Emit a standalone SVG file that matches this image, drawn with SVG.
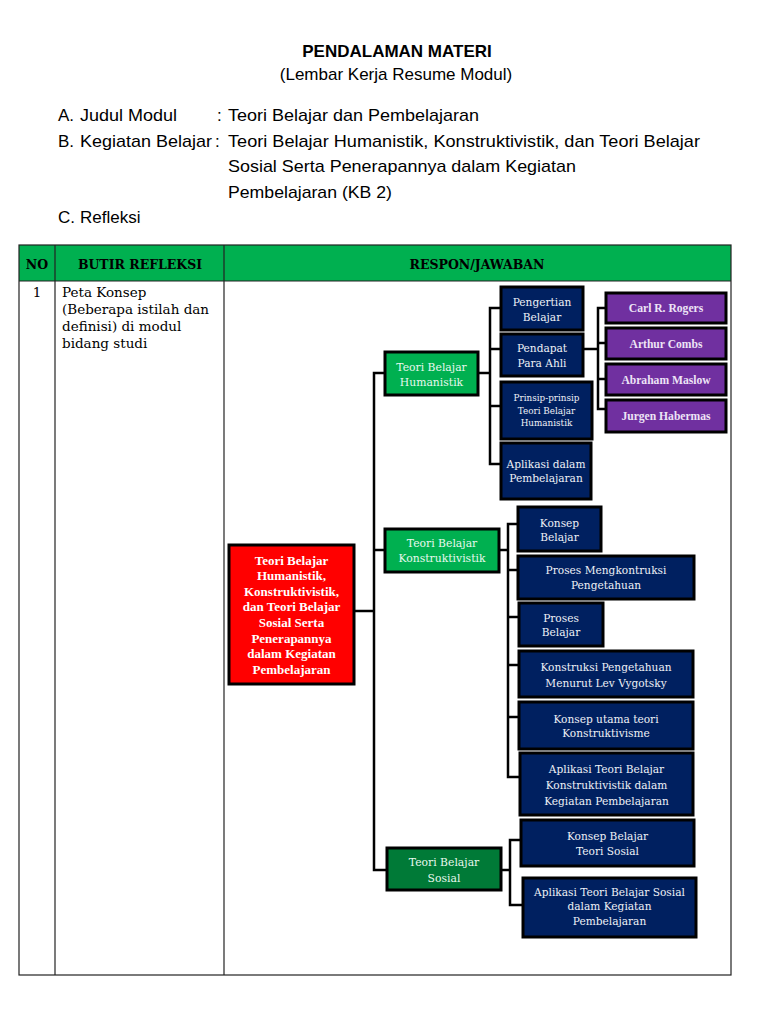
<svg xmlns="http://www.w3.org/2000/svg" width="768" height="1024" viewBox="0 0 768 1024">
<style>
.hd{font-family:"Liberation Sans",Arial,sans-serif;font-size:17px;fill:#000}
.th{font-family:"DejaVu Serif","Liberation Serif",serif;font-size:12.5px;font-weight:bold;fill:#000;text-anchor:middle}
.td{font-family:"DejaVu Serif","Liberation Serif",serif;font-size:13.5px;fill:#000}
.box{stroke:#000;stroke-width:3}
.red{fill:#FF0000}
.grn{fill:#00B050}
.dgr{fill:#007A37}
.nav{fill:#002060}
.pur{fill:#7030A0}
.t{font-family:"DejaVu Serif","Liberation Serif",serif;font-size:10.6px;fill:#EEF0F6;text-anchor:middle}
.tg{font-family:"DejaVu Serif","Liberation Serif",serif;font-size:10.8px;fill:#E8F8EE;text-anchor:middle}
.tr{font-family:"Liberation Serif","DejaVu Serif",serif;font-size:13px;font-weight:bold;fill:#FFFFFF;text-anchor:middle}
.tp{font-family:"Liberation Serif","DejaVu Serif",serif;font-size:11.6px;font-weight:bold;fill:#EDE4F6;text-anchor:middle}
.ts{font-size:8.8px}
.cn{fill:none;stroke:#000;stroke-width:2.5}
.grid{fill:none;stroke:#222;stroke-width:1.2}
</style>
<rect width="768" height="1024" fill="#FFFFFF"/>

<g id="header-text">
<text class="hd" x="397" y="57" text-anchor="middle" font-weight="bold">PENDALAMAN MATERI</text>
<text class="hd" x="396" y="80" text-anchor="middle">(Lembar Kerja Resume Modul)</text>
<text class="hd" x="58" y="121">A.</text>
<text class="hd" x="80" y="121" textLength="97" lengthAdjust="spacingAndGlyphs">Judul Modul</text>
<text class="hd" x="217" y="121">:</text>
<text class="hd" x="228" y="121" textLength="251" lengthAdjust="spacingAndGlyphs">Teori Belajar dan Pembelajaran</text>
<text class="hd" x="58" y="147">B.</text>
<text class="hd" x="80" y="147" textLength="132" lengthAdjust="spacingAndGlyphs">Kegiatan Belajar</text>
<text class="hd" x="215" y="147">:</text>
<text class="hd" x="228" y="147" textLength="472" lengthAdjust="spacingAndGlyphs">Teori Belajar Humanistik, Konstruktivistik, dan Teori Belajar</text>
<text class="hd" x="228" y="172" textLength="348" lengthAdjust="spacingAndGlyphs">Sosial Serta Penerapannya dalam Kegiatan</text>
<text class="hd" x="228" y="198" textLength="164" lengthAdjust="spacingAndGlyphs">Pembelajaran (KB 2)</text>
<text class="hd" x="58" y="223">C.</text>
<text class="hd" x="80" y="223">Refleksi</text>
</g>

<g id="table">
<rect x="19" y="245" width="712" height="36" fill="#00B050"/>
<rect class="grid" x="19" y="245" width="712" height="730"/>
<line class="grid" x1="19" y1="281" x2="731" y2="281"/>
<line class="grid" x1="55" y1="245" x2="55" y2="975"/>
<line class="grid" x1="224" y1="245" x2="224" y2="975"/>
<text class="th" x="37" y="269">NO</text>
<text class="th" x="140" y="269">BUTIR REFLEKSI</text>
<text class="th" x="477" y="269">RESPON/JAWABAN</text>
<text class="td" x="37" y="297" text-anchor="middle">1</text>
<text class="td" x="62" y="297">Peta Konsep</text>
<text class="td" x="62" y="314">(Beberapa istilah dan</text>
<text class="td" x="62" y="331">definisi) di modul</text>
<text class="td" x="62" y="348">bidang studi</text>
</g>

<g id="connectors">
<polyline class="cn" points="354,611 374,611"/>
<polyline class="cn" points="385,373 374,373 374,870 387,870"/>
<polyline class="cn" points="374,550 385,550"/>
<polyline class="cn" points="478,373 490,373"/>
<polyline class="cn" points="501,308 490,308 490,464 501,464"/>
<polyline class="cn" points="490,349 501,349"/>
<polyline class="cn" points="490,406 501,406"/>
<polyline class="cn" points="583,349 598,349"/>
<polyline class="cn" points="606,308 598,308 598,409 606,409"/>
<polyline class="cn" points="598,343 606,343"/>
<polyline class="cn" points="598,379 606,379"/>
<polyline class="cn" points="499,550 508,550"/>
<polyline class="cn" points="518,524 508,524 508,777 520,777"/>
<polyline class="cn" points="508,570 518,570"/>
<polyline class="cn" points="508,617 519,617"/>
<polyline class="cn" points="508,665 519,665"/>
<polyline class="cn" points="508,717 519,717"/>
<polyline class="cn" points="501,870 510,870"/>
<polyline class="cn" points="521,840 510,840 510,905 523,905"/>
</g>

<g id="root">
<rect class="box red" x="229" y="545" width="125" height="139"/>
<text class="tr" x="291.5" y="564.5">Teori Belajar</text>
<text class="tr" x="291.5" y="580">Humanistik,</text>
<text class="tr" x="291.5" y="595.5">Konstruktivistik,</text>
<text class="tr" x="291.5" y="611">dan Teori Belajar</text>
<text class="tr" x="291.5" y="627">Sosial Serta</text>
<text class="tr" x="291.5" y="642.5">Penerapannya</text>
<text class="tr" x="291.5" y="658">dalam Kegiatan</text>
<text class="tr" x="291.5" y="674" font-size="14.3">Pembelajaran</text>
</g>

<g id="humanistik">
<rect class="box grn" x="385" y="352" width="93" height="43"/>
<text class="tg" x="431.5" y="371">Teori Belajar</text>
<text class="tg" x="431.5" y="386">Humanistik</text>
</g>
<g id="konstruktivistik">
<rect class="box grn" x="385" y="529" width="114" height="43"/>
<text class="tg" x="442" y="547">Teori Belajar</text>
<text class="tg" x="442" y="562">Konstruktivistik</text>
</g>
<g id="sosial">
<rect class="box dgr" x="387" y="848" width="114" height="42"/>
<text class="tg" x="444" y="866">Teori Belajar</text>
<text class="tg" x="444" y="882">Sosial</text>
</g>

<g id="pengertian">
<rect class="box nav" x="501" y="287" width="82" height="43"/>
<text class="t" x="542" y="306">Pengertian</text>
<text class="t" x="542" y="321">Belajar</text>
</g>
<g id="pendapat">
<rect class="box nav" x="501" y="334" width="82" height="42"/>
<text class="t" x="542" y="352">Pendapat</text>
<text class="t" x="542" y="367">Para Ahli</text>
</g>
<g id="prinsip">
<rect class="box nav" x="501" y="382" width="91" height="57"/>
<text class="t ts" x="546.5" y="401">Prinsip-prinsip</text>
<text class="t ts" x="546.5" y="413.5">Teori Belajar</text>
<text class="t ts" x="546.5" y="426">Humanistik</text>
</g>
<g id="aplikasi-humanistik">
<rect class="box nav" x="501" y="443" width="90" height="56"/>
<text class="t" x="546" y="468">Aplikasi dalam</text>
<text class="t" x="546" y="482">Pembelajaran</text>
</g>

<g id="carl">
<rect class="box pur" x="606" y="293" width="120" height="30"/>
<text class="tp" x="666" y="312">Carl R. Rogers</text>
</g>
<g id="arthur">
<rect class="box pur" x="606" y="328" width="120" height="31"/>
<text class="tp" x="666" y="347.5">Arthur Combs</text>
</g>
<g id="abraham">
<rect class="box pur" x="606" y="364" width="120" height="31"/>
<text class="tp" x="666" y="383.5">Abraham Maslow</text>
</g>
<g id="jurgen">
<rect class="box pur" x="606" y="400" width="120" height="32"/>
<text class="tp" x="666" y="420">Jurgen Habermas</text>
</g>

<g id="konsep-belajar">
<rect class="box nav" x="518" y="507" width="83" height="44"/>
<text class="t" x="559.5" y="527">Konsep</text>
<text class="t" x="559.5" y="541">Belajar</text>
</g>
<g id="proses-mengkontruksi">
<rect class="box nav" x="518" y="556" width="176" height="43"/>
<text class="t" x="606" y="574">Proses Mengkontruksi</text>
<text class="t" x="606" y="589">Pengetahuan</text>
</g>
<g id="proses-belajar">
<rect class="box nav" x="519" y="603" width="84" height="43"/>
<text class="t" x="561" y="622">Proses</text>
<text class="t" x="561" y="636">Belajar</text>
</g>
<g id="konstruksi-vygotsky">
<rect class="box nav" x="519" y="651" width="174" height="46"/>
<text class="t" x="606" y="671">Konstruksi Pengetahuan</text>
<text class="t" x="606" y="687">Menurut Lev Vygotsky</text>
</g>
<g id="konsep-utama">
<rect class="box nav" x="519" y="702" width="174" height="47"/>
<text class="t" x="606" y="723">Konsep utama teori</text>
<text class="t" x="606" y="737">Konstruktivisme</text>
</g>
<g id="aplikasi-konstruktivistik">
<rect class="box nav" x="520" y="753" width="173" height="62"/>
<text class="t" x="606.5" y="773">Aplikasi Teori Belajar</text>
<text class="t" x="606.5" y="789">Konstruktivistik dalam</text>
<text class="t" x="606.5" y="805">Kegiatan Pembelajaran</text>
</g>

<g id="konsep-sosial">
<rect class="box nav" x="521" y="820" width="173" height="46"/>
<text class="t" x="607.5" y="840">Konsep Belajar</text>
<text class="t" x="607.5" y="855">Teori Sosial</text>
</g>
<g id="aplikasi-sosial">
<rect class="box nav" x="523" y="878" width="173" height="59"/>
<text class="t" x="609.5" y="896">Aplikasi Teori Belajar Sosial</text>
<text class="t" x="609.5" y="910">dalam Kegiatan</text>
<text class="t" x="609.5" y="925">Pembelajaran</text>
</g>
</svg>
